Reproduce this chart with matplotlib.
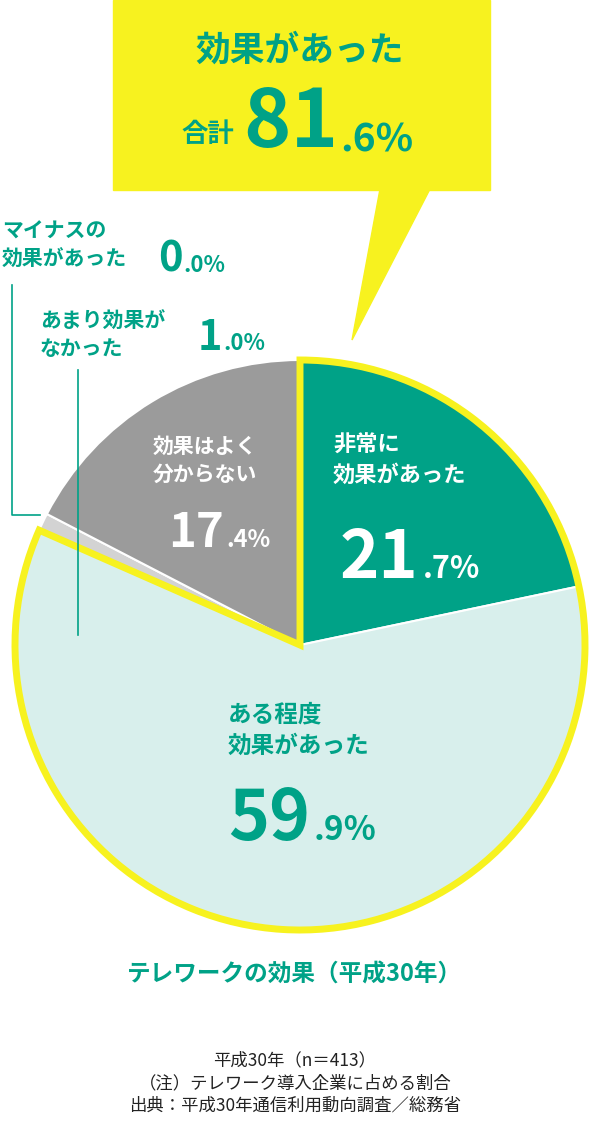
import matplotlib.pyplot as plt
from matplotlib.patches import Wedge, Polygon, Rectangle

plt.rcParams['font.family'] = ['Noto Sans CJK JP', 'DejaVu Sans']

labels = ['非常に\n効果があった', 'ある程度\n効果があった', 'マイナスの\n効果があった', 'あまり効果が\nなかった', '効果はよく\n分からない']
values = [21.7, 59.9, 0.0, 1.0, 17.4]
colors = ['#00a287', '#d8efec', '#c0504d', '#d3d3d3', '#9b9b9b']
total_effect = 81.6

teal = '#00a287'
yellow = '#f7f21f'
H = 1136

fig = plt.figure(figsize=(5.9, 11.36), dpi=100)
ax = fig.add_axes([0, 0, 1, 1])
ax.set_xlim(0, 590)
ax.set_ylim(0, H)
ax.set_aspect('equal')
ax.axis('off')

cx, cy, r = 300, H - 645, 285

# 吹き出し
ax.add_patch(Rectangle((113, H - 190), 377, 190, color=yellow, zorder=1))
ax.add_patch(Polygon([(380, H - 189), (430, H - 189), (352, H - 340)], color=yellow, zorder=1))
ax.text(300, H - 50, '効果があった', ha='center', va='center', fontsize=25, color=teal, fontweight='bold')
ax.text(208, H - 135, '合計', ha='center', va='center', fontsize=19, color=teal, fontweight='bold')
ax.text(243, H - 123, '81', ha='left', va='center', fontsize=58, color=teal, fontweight='bold')
ax.text(340, H - 140, '.6%', ha='left', va='center', fontsize=28, color=teal, fontweight='bold')

# 円グラフ
ax.pie(values, colors=colors, startangle=90, counterclock=False, center=(cx, cy), radius=r,
       wedgeprops=dict(edgecolor='white', linewidth=1.5))
ax.set_xlim(0, 590)
ax.set_ylim(0, H)
end = 90 - total_effect / 100 * 360
ax.add_patch(Wedge((cx, cy), r, end, 90, fill=False, edgecolor=yellow, linewidth=5, zorder=5))

def pct(x, y, v, color, big, small):
    a, b = f'{v:.1f}'.split('.')
    t = ax.text(x, y, a, ha='left', va='baseline', fontsize=big, color=color, fontweight='bold')
    w = len(a) * big * 0.62 * 100 / 72
    ax.text(x + w, y, '.' + b + '%', ha='left', va='baseline', fontsize=small, color=color, fontweight='bold')

ax.text(333, H - 460, labels[0], ha='left', va='center', fontsize=16, color='white', fontweight='bold', linespacing=1.4)
pct(340, H - 578, values[0], 'white', 48, 22)
ax.text(228, H - 730, labels[1], ha='left', va='center', fontsize=17, color=teal, fontweight='bold', linespacing=1.4)
pct(228, H - 840, values[1], teal, 50, 24)
ax.text(205, H - 460, labels[4], ha='center', va='center', fontsize=15, color='white', fontweight='bold', linespacing=1.4)
pct(168, H - 547, values[4], 'white', 34, 17)

ax.text(2, H - 245, labels[2], ha='left', va='center', fontsize=15, color=teal, fontweight='bold', linespacing=1.4)
pct(158, H - 272, values[2], teal, 30, 16)
ax.text(40, H - 335, labels[3], ha='left', va='center', fontsize=15, color=teal, fontweight='bold', linespacing=1.4)
pct(198, H - 350, values[3], teal, 30, 16)

# 引き出し線
ax.plot([12, 12, 40], [H - 285, H - 515, H - 515], color=teal, lw=1.2, zorder=6)
ax.plot([78, 78], [H - 370, H - 635], color=teal, lw=1.2, zorder=6)

ax.text(295, H - 975, 'テレワークの効果（平成30年）', ha='center', va='center', fontsize=17, color=teal, fontweight='bold')
ax.text(295, H - 1083, '平成30年（n＝413）\n（注）テレワーク導入企業に占める割合\n出典：平成30年通信利用動向調査／総務省',
        ha='center', va='center', fontsize=12.5, color='#222222', linespacing=1.35)

fig.savefig('out.png', dpi=100)
